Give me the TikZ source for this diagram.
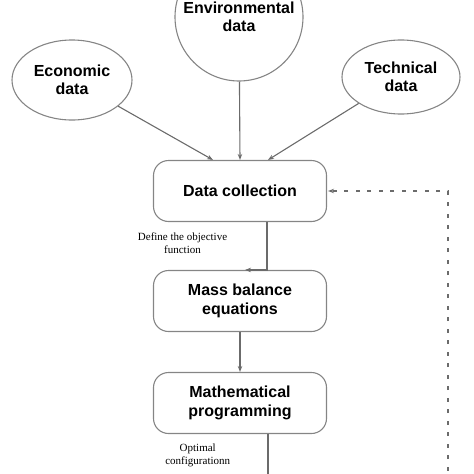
\documentclass[tikz,border=0pt]{standalone}
\usepackage{fontspec}
\setmainfont{Liberation Serif}
\setsansfont{Liberation Sans}
\usepackage{tikz}
\usetikzlibrary{
    calc,
    arrows.meta,
    shapes.geometric
}
\definecolor{linegray}{gray}{0.42}
\definecolor{edgegray}{gray}{0.52}
\tikzset{
    databubble/.style={draw=edgegray, line width=1.1pt, ellipse, inner sep=0pt, align=center,
        font=\sffamily\bfseries\fontsize{16}{18.5}\selectfont},
    stagebox/.style={draw=edgegray, line width=1.1pt, rounded corners=15pt,
        minimum width=173pt, minimum height=61pt, align=center,
        font=\sffamily\bfseries\fontsize{16}{19}\selectfont},
    flow/.style={draw=linegray, line width=1.1pt, -{Stealth[length=6pt,width=4.5pt]}},
    feedback/.style={draw=linegray, line width=1.1pt, dash pattern=on 4pt off 7.5pt,
        -{Stealth[length=6pt,width=4.5pt]}},
    steplabel/.style={font=\rmfamily\fontsize{11}{13}\selectfont, align=center}
}

\begin{document}
\begin{tikzpicture}[x=1pt,y=-1pt]
    \useasboundingbox (0,0) rectangle (474,474);
    \clip (0,0) rectangle (474,474);

    % data sources
    \node[databubble, circle, minimum size=128pt] (env) at (239,17) {Environmental\\data};
    \node[databubble, minimum width=120pt, minimum height=80pt] (econ) at (72,80) {Economic\\data};
    \node[databubble, minimum width=118pt, minimum height=74pt] (tech) at (401,77) {Technical\\data};

    % stages
    \node[stagebox] (dc) at (240,191) {Data collection};
    \node[stagebox] (mb) at (240,301) {Mass balance\\equations};
    \node[stagebox] (mp) at (240,403) {Mathematical\\programming};

    \coordinate (out)  at (268,482);
    \coordinate (back) at (448,482);

    \draw[flow] (econ) -- ([xshift=-27pt]dc.north);
    \draw[flow] (env)  -- (dc.north);
    \draw[flow] (tech) -- ([xshift=28pt]dc.north);

    \draw[flow] ([xshift=27pt]dc.south) |- node[steplabel, pos=0.22, left=36pt]{Define the objective\\function} ([xshift=5pt]mb.north);
    \draw[flow] (mb) -- (mp);
    \draw[flow] ([xshift=28pt]mp.south) -- node[steplabel, pos=0.45, left=34pt]{Optimal\\configurationn} (out);

    \draw[feedback] (back) |- ([xshift=1pt]dc.east);
\end{tikzpicture}
\end{document}
